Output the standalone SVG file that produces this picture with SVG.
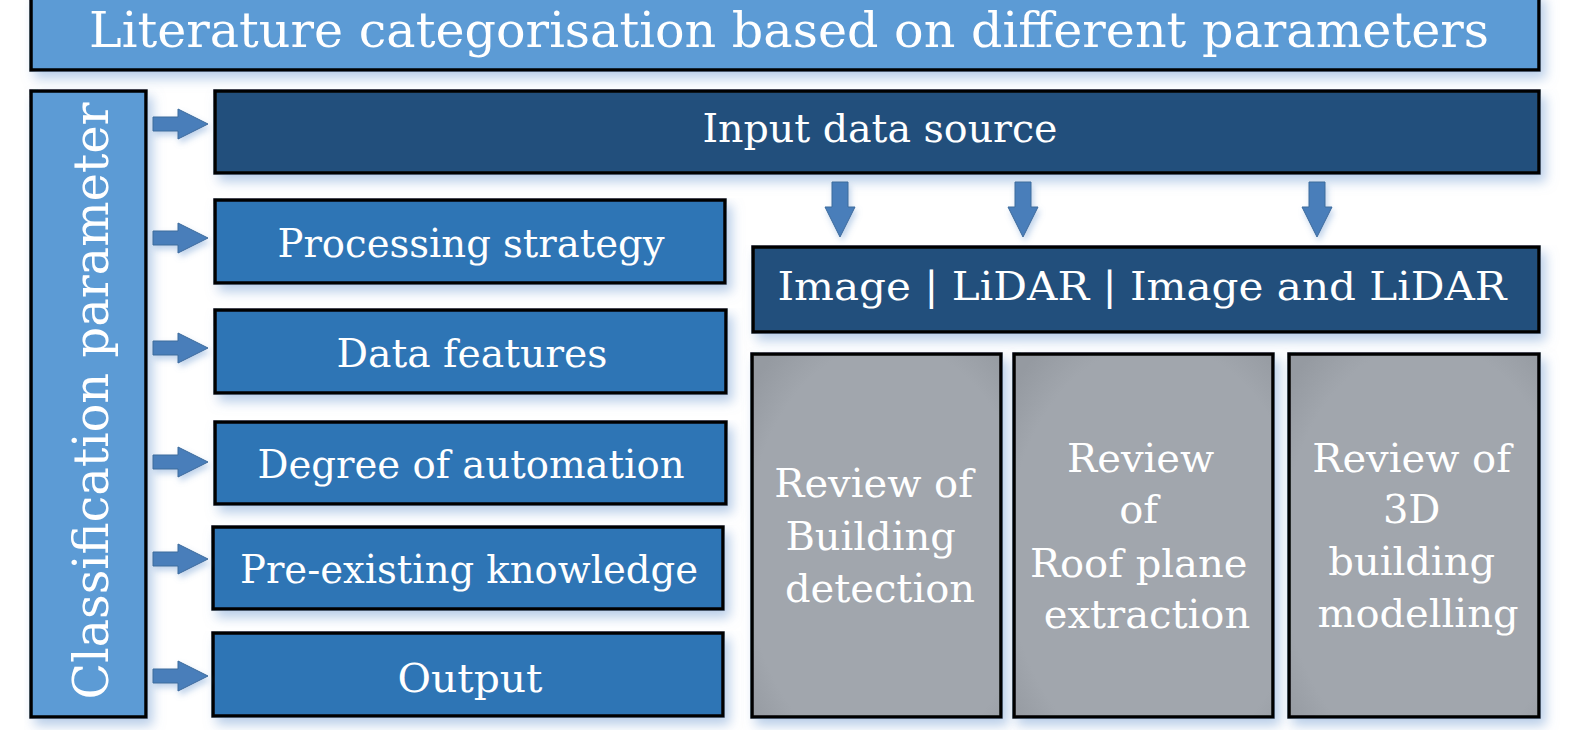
<svg xmlns="http://www.w3.org/2000/svg" width="1588" height="730" viewBox="0 0 1588 730">
<defs>
<filter id="sh" x="-10%" y="-10%" width="130%" height="140%">
<feGaussianBlur in="SourceAlpha" stdDeviation="6"/>
<feOffset dx="5" dy="7" result="b"/>
<feFlood flood-color="#7FA6D6" flood-opacity="0.55"/>
<feComposite in2="b" operator="in"/>
<feMerge><feMergeNode/><feMergeNode in="SourceGraphic"/></feMerge>
</filter>
<filter id="ash" x="-30%" y="-30%" width="180%" height="180%">
<feGaussianBlur in="SourceAlpha" stdDeviation="3"/>
<feOffset dx="2" dy="4" result="b"/>
<feFlood flood-color="#7FA6D6" flood-opacity="0.5"/>
<feComposite in2="b" operator="in"/>
<feMerge><feMergeNode/><feMergeNode in="SourceGraphic"/></feMerge>
</filter>
<radialGradient id="gray" cx="55%" cy="55%" r="72%">
<stop offset="0.8" stop-color="#A1A6AD"/>
<stop offset="1" stop-color="#959AA1"/>
</radialGradient>
</defs>
<style>
.box{stroke:#000;stroke-width:3.5;filter:url(#sh)}
.light{fill:#5B9BD5}
.dark{fill:#214F7B}
.mid{fill:#2E74B5}
.grey{fill:url(#gray)}
.t{font-family:'DejaVu Serif','Liberation Serif',serif;fill:#fff;text-anchor:middle}
.arr{fill:#4A7EBA;stroke:#3B6A9C;stroke-width:1;filter:url(#ash)}
</style>
<rect width="1588" height="730" fill="#fff"/>

<g id="title">
<rect class="box light" x="31" y="-6" width="1508" height="76"/>
<text class="t" x="789" y="47" font-size="48" textLength="1400" lengthAdjust="spacingAndGlyphs">Literature categorisation based on different parameters</text>
</g>

<g id="classification">
<rect class="box light" x="31" y="91" width="115" height="626"/>
<text class="t" transform="translate(108,401) rotate(-90)" font-size="49" textLength="597" lengthAdjust="spacingAndGlyphs">Classification parameter</text>
</g>

<g id="input">
<rect class="box dark" x="215" y="91" width="1324" height="82"/>
<text class="t" x="880" y="142" font-size="40" textLength="355" lengthAdjust="spacingAndGlyphs">Input data source</text>
</g>

<g id="processing">
<rect class="box mid" x="215" y="200" width="510" height="83"/>
<text class="t" x="471" y="257" font-size="40" textLength="387" lengthAdjust="spacingAndGlyphs">Processing strategy</text>
</g>

<g id="features">
<rect class="box mid" x="215" y="310" width="511" height="83"/>
<text class="t" x="472" y="367" font-size="40" textLength="271" lengthAdjust="spacingAndGlyphs">Data features</text>
</g>

<g id="automation">
<rect class="box mid" x="215" y="422" width="511" height="82"/>
<text class="t" x="471" y="478" font-size="40" textLength="427" lengthAdjust="spacingAndGlyphs">Degree of automation</text>
</g>

<g id="knowledge">
<rect class="box mid" x="213" y="527" width="510" height="82"/>
<text class="t" x="469" y="583" font-size="40" textLength="458" lengthAdjust="spacingAndGlyphs">Pre-existing knowledge</text>
</g>

<g id="output">
<rect class="box mid" x="213" y="633" width="510" height="83"/>
<text class="t" x="470" y="692" font-size="40" textLength="145" lengthAdjust="spacingAndGlyphs">Output</text>
</g>

<g id="datatypes">
<rect class="box dark" x="753" y="247" width="786" height="85"/>
<text class="t" x="1142" y="300" font-size="40" textLength="729" lengthAdjust="spacingAndGlyphs">Image | LiDAR | Image and LiDAR</text>
</g>

<g id="review-building">
<rect class="box grey" x="752" y="354" width="249" height="363"/>
<text class="t" font-size="40">
<tspan x="880" y="497">Review of</tspan>
<tspan x="877" y="550">Building</tspan>
<tspan x="880" y="602">detection</tspan>
</text>
</g>

<g id="review-roof">
<rect class="box grey" x="1014" y="354" width="259" height="363"/>
<text class="t" font-size="40">
<tspan x="1147" y="472">Review</tspan>
<tspan x="1145" y="523">of</tspan>
<tspan x="1145" y="577">Roof plane</tspan>
<tspan x="1147" y="628">extraction</tspan>
</text>
</g>

<g id="review-3d">
<rect class="box grey" x="1289" y="354" width="250" height="363"/>
<text class="t" font-size="40">
<tspan x="1418" y="472">Review of</tspan>
<tspan x="1418" y="523">3D</tspan>
<tspan x="1418" y="575">building</tspan>
<tspan x="1418" y="627">modelling</tspan>
</text>
</g>

<g id="connectors">
<path class="arr" d="M153,117 H178 V109 L208,124 L178,139 V131 H153 Z"/>
<path class="arr" d="M153,231 H178 V223 L208,238 L178,253 V245 H153 Z"/>
<path class="arr" d="M153,341 H178 V333 L208,348 L178,363 V355 H153 Z"/>
<path class="arr" d="M153,455 H178 V447 L208,462 L178,477 V469 H153 Z"/>
<path class="arr" d="M153,552 H178 V544 L208,559 L178,574 V566 H153 Z"/>
<path class="arr" d="M153,669 H178 V661 L208,676 L178,691 V683 H153 Z"/>
<path class="arr" d="M832,182 V207 H825 L840,237 L855,207 H848 V182 Z"/>
<path class="arr" d="M1015,182 V207 H1008 L1023,237 L1038,207 H1031 V182 Z"/>
<path class="arr" d="M1309,182 V207 H1302 L1317,237 L1332,207 H1325 V182 Z"/>
</g>
</svg>
